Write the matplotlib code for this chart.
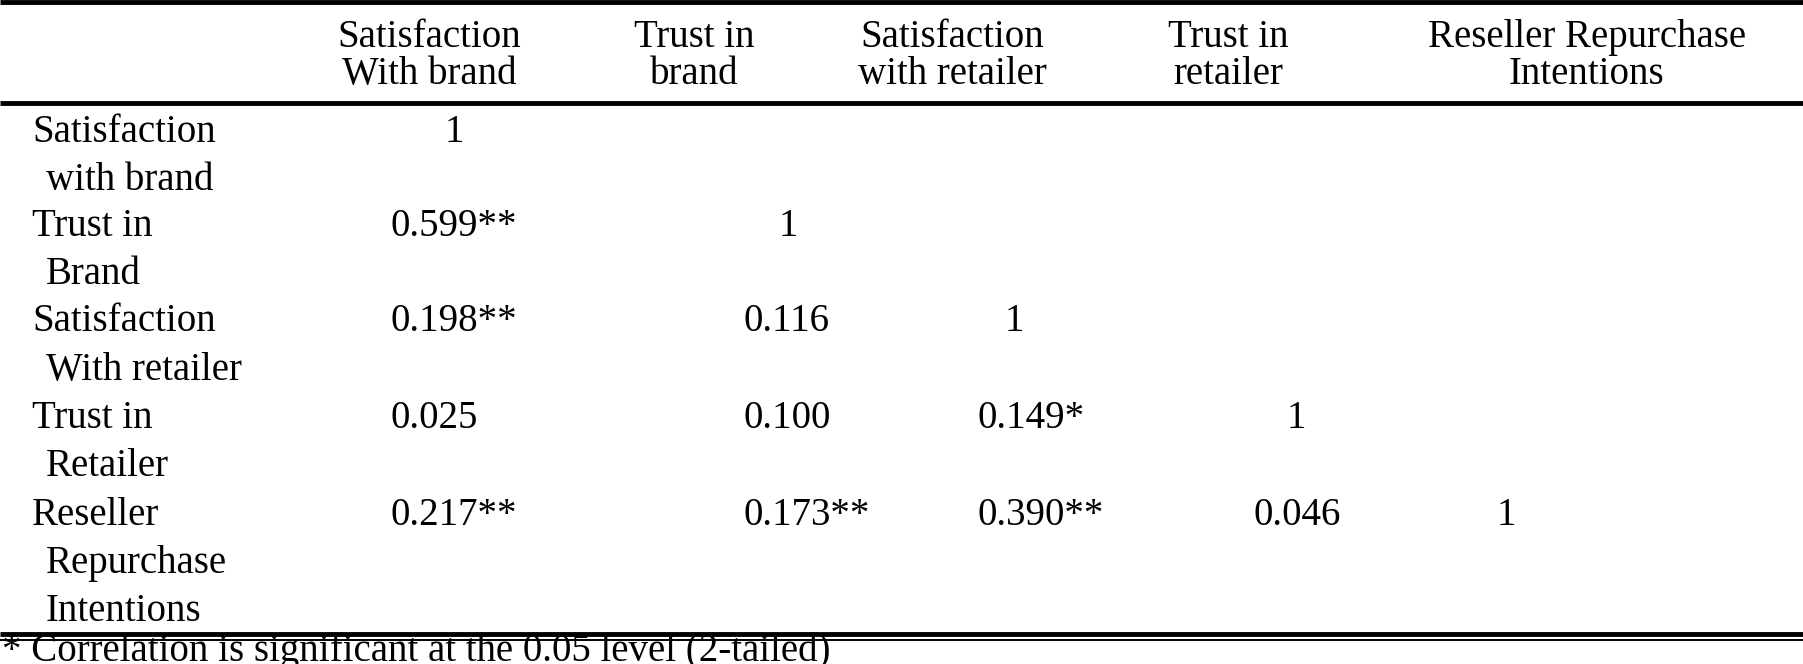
import matplotlib
matplotlib.use("Agg")
import matplotlib.pyplot as plt

col_labels = ["Satisfaction\nWith brand", "Trust in\nbrand", "Satisfaction\nwith retailer",
              "Trust in\nretailer", "Reseller Repurchase\nIntentions"]
row_labels = [["Satisfaction", "with brand"], ["Trust in", "Brand"], ["Satisfaction", "With retailer"],
              ["Trust in", "Retailer"], ["Reseller", "Repurchase", "Intentions"]]
values = [["1", "", "", "", ""],
          ["0.599**", "1", "", "", ""],
          ["0.198**", "0.116", "1", "", ""],
          ["0.025", "0.100", "0.149*", "1", ""],
          ["0.217**", "0.173**", "0.390**", "0.046", "1"]]
footnote = "* Correlation is significant at the 0.05 level (2-tailed)"

W, H = 1803, 664
S = 1803 / 1568
fig = plt.figure(figsize=(W/100, H/100), dpi=100)
ax = fig.add_axes([0, 0, 1, 1])
ax.set_xlim(0, W); ax.set_ylim(H, 0); ax.axis("off")
fs = 28
font = "Liberation Serif"

header_x = [373, 604, 828, 1068, 1380]
for x, lab in zip(header_x, col_labels):
    ax.text(x*S, 49*S, lab, ha="center", va="center", fontsize=fs, family=font, linespacing=1.0)

row_y = [115, 197, 280, 364, 448]
line_h = 42
for y, lab in zip(row_y, row_labels):
    for i, t in enumerate(lab):
        ax.text((28 if i == 0 else 40)*S, (y + i*line_h)*S, t, ha="left", va="center", fontsize=fs, family=font)

dec_x = [340, 647, 850, 1090, 1090]
one_x = [395, 686, 882, 1127, 1310]
for r, row in enumerate(values):
    for c, v in enumerate(row):
        if not v:
            continue
        if v == "1":
            ax.text(one_x[c]*S, row_y[r]*S, v, ha="center", va="center", fontsize=fs, family=font)
        else:
            ax.text(dec_x[c]*S, row_y[r]*S, v, ha="left", va="center", fontsize=fs, family=font)

for y, lw in [(2, 3.5), (90*S, 3.5), (551*S, 3.5), (557*S, 1.4)]:
    ax.plot([0, W], [y, y], color="black", lw=lw, solid_capstyle="butt")

ax.text(2, 651, footnote, ha="left", va="center", fontsize=fs, family=font)
fig.savefig("out.png", dpi=100)
